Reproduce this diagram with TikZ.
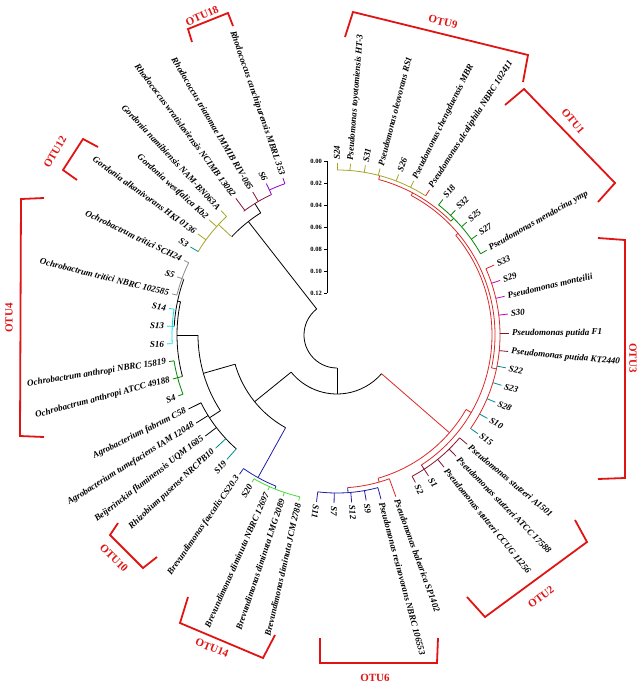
\documentclass[tikz,border=0pt]{standalone}
\usepackage{fontspec}
\setmainfont{Liberation Serif}
\definecolor{otured}{RGB}{225,20,20}
\definecolor{tred}{RGB}{220,40,40}
\definecolor{olive}{RGB}{165,165,40}
\definecolor{tgreen}{RGB}{0,135,0}
\definecolor{lime}{RGB}{70,220,50}
\definecolor{tcyan}{RGB}{0,225,230}
\definecolor{tteal}{RGB}{0,140,140}
\definecolor{tmag}{RGB}{190,0,190}
\definecolor{tpurp}{RGB}{140,0,210}
\definecolor{dred}{RGB}{130,20,50}
\definecolor{tblue}{RGB}{30,30,170}
\definecolor{tgray}{RGB}{140,140,140}
\tikzset{
 br/.style={line width=0.8pt},
 lab/.style={font=\fontsize{9}{10}\selectfont\bfseries\itshape, inner sep=0pt},
 otu/.style={draw=otured, line width=1.8pt},
 otulab/.style={font=\fontsize{11}{12}\selectfont\bfseries, text=otured, inner sep=0pt},
 ticklab/.style={font=\fontsize{6.5}{7}\selectfont\bfseries, inner sep=0pt, anchor=east}
}
\newcommand\tarc[4]{\draw[br,#1] (#3:#2) arc[start angle=#3, end angle=#4, radius=#2 pt];}
\newcommand\trad[4]{\draw[br,#1] (#2:#3) -- (#2:#4);}
\newcommand\lfR[6]{\draw[br,#5] (#2:#3) -- (#2:#4);
 \node[lab, rotate=#2, anchor=west] (#1) at ({#2}:{#4+3}) {#6};}
\newcommand\lfL[6]{\draw[br,#5] (#2:#3) -- (#2:#4);
 \node[lab, rotate={#2+180}, anchor=east] (#1) at ({#2}:{#4+3}) {#6};}
\begin{document}
\begin{tikzpicture}[x=1pt,y=1pt]
\useasboundingbox (0,0) rectangle (642,-685);
\fill[white] (0,0) rectangle (642,-685);
\begin{scope}[shift={(337,-335)}]
% root
\tarc{black}{33}{128}{270}
\trad{black}{-90}{33}{59}
\tarc{black}{59}{-141}{-41}
% Pseudomonas
\trad{tred}{-41}{59}{149}
\tarc{tred}{149}{-74}{-30}
\trad{tred}{-74}{149}{153}
\tarc{tred}{153}{-86}{-70}
\lfR{bal}{-70}{153}{172}{tred}{Pseudomonas balearica SP1402}
\trad{tblue}{-86}{153}{158}
\tarc{tblue}{158}{-97}{-75}
\lfR{res}{-75}{158}{170}{tblue}{Pseudomonas resinovorans NBRC 106553}
\lfR{s9}{-80}{158}{168}{tblue}{S9}
\lfR{s12}{-85}{158}{168}{tblue}{S12}
\lfR{s7}{-91}{158}{168}{tblue}{S7}
\lfR{s11}{-97}{158}{168}{tblue}{S11}
\trad{tred}{-30}{149}{155}
\tarc{tred}{155}{-57}{40}
\trad{dred}{-57}{155}{160}
\tarc{dred}{160}{-62}{-40}
\lfR{a1501}{-40}{160}{170}{dred}{Pseudomonas stutzeri A1501}
\lfR{atcc}{-45.5}{160}{170}{dred}{Pseudomonas stutzeri ATCC 17588}
\lfR{ccug}{-51}{160}{170}{dred}{Pseudomonas stutzeri CCUG 11256}
\lfR{s1}{-57}{160}{168}{dred}{S1}
\lfR{s2}{-62}{160}{167}{dred}{S2}
\trad{tred}{40}{155}{158}
\tarc{tred}{158}{-12}{62}
\trad{tred}{-12}{158}{163}
\tarc{tred}{163}{-35}{24}
\lfR{s33}{24}{163}{172}{tred}{S33}
\lfR{s29}{18.5}{163}{172}{tmag}{S29}
\lfR{mon}{13}{163}{172}{tmag}{Pseudomonas monteilii}
\lfR{s30}{7}{163}{172}{tmag}{S30}
\lfR{f1}{0.5}{163}{172}{dred}{Pseudomonas putida F1}
\lfR{kt}{-5.5}{163}{172}{dred}{Pseudomonas putida KT2440}
\lfR{s22}{-11}{163}{172}{tteal}{S22}
\lfR{s23}{-17}{163}{172}{tteal}{S23}
\lfR{s28}{-23}{163}{172}{tteal}{S28}
\lfR{s10}{-29}{163}{172}{tteal}{S10}
\lfR{s15}{-35}{163}{172}{tteal}{S15}
\trad{tred}{62}{158}{161}
\tarc{tred}{161}{45}{75}
\trad{tgreen}{45}{161}{165}
\tarc{tgreen}{165}{29.5}{52}
\lfR{s18}{52}{165}{172}{tgreen}{S18}
\lfR{s32}{46.5}{165}{172}{tgreen}{S32}
\lfR{s25}{41}{165}{172}{tgreen}{S25}
\lfR{s27}{35.5}{165}{172}{tgreen}{S27}
\lfR{men}{29.5}{165}{172}{tgreen}{Pseudomonas mendocina ymp}
\trad{tred}{75}{161}{165}
\tarc{olive}{165}{57.5}{90}
\lfR{alc}{57.5}{165}{172}{tred}{Pseudomonas alcaliphila NBRC 102411}
\lfR{mbr}{63.5}{165}{172}{olive}{Pseudomonas chengduensis MBR}
\lfR{s26}{69}{165}{172}{olive}{S26}
\lfR{rs1}{75.5}{165}{172}{olive}{Pseudomonas oleovorans RS1}
\lfR{s31}{80.5}{165}{172}{olive}{S31}
\lfR{ht3}{85.5}{165}{172}{olive}{Pseudomonas toyotomiensis HT-3}
\lfR{s24}{90}{165}{172}{olive}{S24}
% Alphaproteobacteria
\trad{black}{-141}{59}{106}
\tarc{black}{106}{-164}{-119}
\trad{tblue}{-119}{106}{163}
\tarc{tblue}{163}{-125}{-112}
\lfL{fae}{-125}{163}{170}{tblue}{Brevundimonas faecalis CS20.3}
\trad{tblue}{-112}{163}{166}
\tarc{lime}{166}{-120}{-103}
\lfL{jcm}{-103}{166}{170}{lime}{Brevundimonas diminuta JCM 2788}
\lfL{lmg}{-108.5}{166}{170}{lime}{Brevundimonas diminuta LMG 2089}
\lfL{nbrcb}{-114}{166}{170}{lime}{Brevundimonas diminuta NBRC 12697}
\lfL{s20}{-120}{166}{170}{lime}{S20}
\trad{black}{-164}{106}{139}
\tarc{black}{139}{180}{213}
\trad{black}{213}{139}{152}
\tarc{black}{152}{206.5}{228.5}
\lfL{s19}{-131.5}{152}{166}{tteal}{S19}
\lfL{rhz}{-137}{152}{166}{tteal}{Rhizobium pusense NRCPB10}
\lfL{bei}{-142.5}{152}{166}{black}{Beijerinckia fluminensis UQM 1685}
\lfL{atum}{-148}{152}{166}{black}{Agrobacterium tumefaciens IAM 12048}
\lfL{afab}{-153.5}{152}{166}{black}{Agrobacterium fabrum C58}
\trad{black}{180}{139}{160}
\tarc{black}{160}{168}{195}
\trad{tgreen}{195}{160}{165}
\tarc{tgreen}{165}{189}{201}
\lfL{s4}{201}{165}{170}{tgreen}{S4}
\lfL{oa1}{195}{165}{170}{tgreen}{Ochrobactrum anthropi ATCC 49188}
\lfL{oa2}{189}{165}{170}{tgreen}{Ochrobactrum anthropi NBRC 15819}
\trad{black}{168}{160}{163}
\tarc{black}{163}{160}{177}
\trad{tcyan}{177}{163}{165}
\tarc{tcyan}{165}{171}{183}
\lfL{s16}{183}{165}{170}{tcyan}{S16}
\lfL{s13}{177}{165}{170}{tcyan}{S13}
\lfL{s14}{171}{165}{170}{tcyan}{S14}
\trad{tgray}{160}{163}{165}
\tarc{tgray}{165}{154}{166}
\lfL{ot1}{166}{165}{170}{tgray}{Ochrobactrum tritici NBRC 102585}
\lfL{s5}{160}{165}{170}{tgray}{S5}
\lfL{ot2}{154}{165}{170}{tgray}{Ochrobactrum tritici SCH24}
% Actinobacteria
\trad{black}{128}{33}{144}
\tarc{black}{144}{122}{137}
\trad{olive}{137}{144}{162}
\tarc{olive}{162}{133}{149}
\lfL{s3}{149}{162}{171}{tteal}{S3}
\lfL{galk}{144}{162}{172}{olive}{Gordonia alkanivorans HKI 0136}
\lfL{gwes}{138}{162}{172}{olive}{Gordonia westfalica Kb2}
\lfL{gnam}{133}{162}{170}{olive}{Gordonia namibiensis NAM-BN063A}
\trad{black}{122}{144}{155}
\tarc{dred}{155}{115}{127}
\lfL{rwra}{126.5}{155}{170}{dred}{Rhodococcus wratislaviensis NCIMB 13082}
\lfL{rtri}{120.5}{155}{166}{dred}{Rhodococcus triatomae IMMIB RIV-085}
\trad{tpurp}{115}{155}{160}
\tarc{tpurp}{160}{109}{115}
\lfL{s6}{115}{160}{167}{tpurp}{S6}
\lfL{rcan}{109}{160}{166}{tpurp}{Rhodococcus canchipurensis MBRL 353}
% scale
\draw[line width=0.6pt] (-10,174) -- (-10,42);
\foreach \k/\t in {0/0.00,1/0.02,2/0.04,3/0.06,4/0.08,5/0.10,6/0.12}{
 \draw[line width=0.6pt] (-10,174-22*\k) -- (-13,174-22*\k);
 \node[ticklab] (tk\k) at (-15,174-22*\k) {\t};}
\end{scope}
% OTU brackets
\draw[otu] (192,-42) -- (188,-29) -- (228,-13) -- (233,-26);
\node[otulab, rotate=24] (o18) at (202,-16) {OTU18};
\draw[otu] (98,-147) -- (83,-139) -- (63,-170) -- (77,-180);
\node[otulab, rotate=60] (o12) at (55,-152) {OTU12};
\draw[otu] (44,-198) -- (21,-199) -- (20,-436) -- (44,-437);
\node[otulab, rotate=90] (o4) at (9,-318) {OTU4};
\draw[otu] (118,-523) -- (110,-535) -- (143,-568) -- (157,-557);
\node[otulab, rotate=-45] (o10) at (114,-558) {OTU10};
\draw[otu] (188,-597) -- (180,-623) -- (263,-658) -- (275,-635);
\node[otulab, rotate=-22] (o14) at (212,-648) {OTU14};
\draw[otu] (320,-638) -- (320,-663) -- (437,-663) -- (438,-638);
\node[otulab] (o6) at (375,-678) {OTU6};
\draw[otu] (575,-520) -- (587,-542) -- (485,-617) -- (467,-597);
\node[otulab, rotate=37] (o2) at (541,-597) {OTU2};
\draw[otu] (598,-238) -- (625,-240) -- (625,-478) -- (598,-479);
\node[otulab, rotate=-90] (o3) at (633,-358) {OTU3};
\draw[otu] (505,-105) -- (524,-89) -- (615,-183) -- (598,-202);
\node[otulab, rotate=-50] (o1) at (573,-121) {OTU1};
\draw[otu] (345,-37) -- (353,-12) -- (528,-55) -- (523,-82);
\node[otulab, rotate=-14] (o9) at (443,-22) {OTU9};
\end{tikzpicture}
\end{document}
